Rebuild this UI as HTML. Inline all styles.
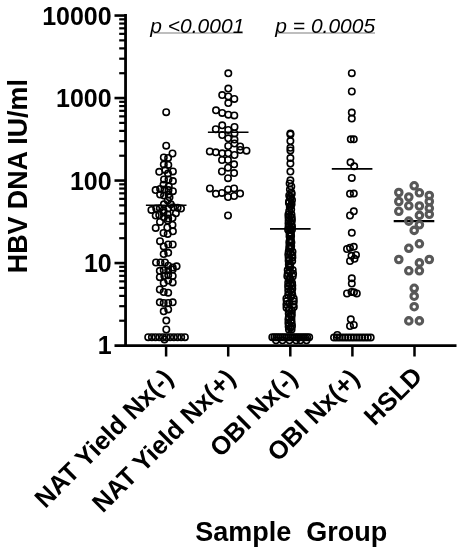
<!DOCTYPE html>
<html><head><meta charset="utf-8"><style>html,body{margin:0;padding:0;background:#fff;}svg{display:block;}</style></head><body>
<svg width="466" height="550" viewBox="0 0 466 550">
<g stroke="#000" fill="none">
<line x1="125.55" y1="14.1" x2="125.55" y2="346.9" stroke-width="2.8"/>
<line x1="114.5" y1="345.6" x2="456.5" y2="345.6" stroke-width="2.6"/>
<line x1="114.5" y1="15.55" x2="125.4" y2="15.55" stroke-width="2.6"/>
<line x1="114.5" y1="98.05" x2="125.4" y2="98.05" stroke-width="2.6"/>
<line x1="114.5" y1="180.55" x2="125.4" y2="180.55" stroke-width="2.6"/>
<line x1="114.5" y1="263.05" x2="125.4" y2="263.05" stroke-width="2.6"/>
<line x1="119.2" y1="320.72" x2="125.4" y2="320.72" stroke-width="2.2"/>
<line x1="119.2" y1="306.19" x2="125.4" y2="306.19" stroke-width="2.2"/>
<line x1="119.2" y1="295.88" x2="125.4" y2="295.88" stroke-width="2.2"/>
<line x1="119.2" y1="287.88" x2="125.4" y2="287.88" stroke-width="2.2"/>
<line x1="119.2" y1="281.35" x2="125.4" y2="281.35" stroke-width="2.2"/>
<line x1="119.2" y1="275.83" x2="125.4" y2="275.83" stroke-width="2.2"/>
<line x1="119.2" y1="271.05" x2="125.4" y2="271.05" stroke-width="2.2"/>
<line x1="119.2" y1="266.82" x2="125.4" y2="266.82" stroke-width="2.2"/>
<line x1="119.2" y1="238.22" x2="125.4" y2="238.22" stroke-width="2.2"/>
<line x1="119.2" y1="223.69" x2="125.4" y2="223.69" stroke-width="2.2"/>
<line x1="119.2" y1="213.38" x2="125.4" y2="213.38" stroke-width="2.2"/>
<line x1="119.2" y1="205.38" x2="125.4" y2="205.38" stroke-width="2.2"/>
<line x1="119.2" y1="198.85" x2="125.4" y2="198.85" stroke-width="2.2"/>
<line x1="119.2" y1="193.33" x2="125.4" y2="193.33" stroke-width="2.2"/>
<line x1="119.2" y1="188.55" x2="125.4" y2="188.55" stroke-width="2.2"/>
<line x1="119.2" y1="184.32" x2="125.4" y2="184.32" stroke-width="2.2"/>
<line x1="119.2" y1="155.72" x2="125.4" y2="155.72" stroke-width="2.2"/>
<line x1="119.2" y1="141.19" x2="125.4" y2="141.19" stroke-width="2.2"/>
<line x1="119.2" y1="130.88" x2="125.4" y2="130.88" stroke-width="2.2"/>
<line x1="119.2" y1="122.88" x2="125.4" y2="122.88" stroke-width="2.2"/>
<line x1="119.2" y1="116.35" x2="125.4" y2="116.35" stroke-width="2.2"/>
<line x1="119.2" y1="110.83" x2="125.4" y2="110.83" stroke-width="2.2"/>
<line x1="119.2" y1="106.05" x2="125.4" y2="106.05" stroke-width="2.2"/>
<line x1="119.2" y1="101.82" x2="125.4" y2="101.82" stroke-width="2.2"/>
<line x1="119.2" y1="73.22" x2="125.4" y2="73.22" stroke-width="2.2"/>
<line x1="119.2" y1="58.69" x2="125.4" y2="58.69" stroke-width="2.2"/>
<line x1="119.2" y1="48.38" x2="125.4" y2="48.38" stroke-width="2.2"/>
<line x1="119.2" y1="40.38" x2="125.4" y2="40.38" stroke-width="2.2"/>
<line x1="119.2" y1="33.85" x2="125.4" y2="33.85" stroke-width="2.2"/>
<line x1="119.2" y1="28.33" x2="125.4" y2="28.33" stroke-width="2.2"/>
<line x1="119.2" y1="23.55" x2="125.4" y2="23.55" stroke-width="2.2"/>
<line x1="119.2" y1="19.32" x2="125.4" y2="19.32" stroke-width="2.2"/>
<line x1="166.10" y1="345.6" x2="166.10" y2="356.5" stroke-width="2.5"/>
<line x1="228.20" y1="345.6" x2="228.20" y2="356.5" stroke-width="2.5"/>
<line x1="290.30" y1="345.6" x2="290.30" y2="356.5" stroke-width="2.5"/>
<line x1="352.40" y1="345.6" x2="352.40" y2="356.5" stroke-width="2.5"/>
<line x1="414.50" y1="345.6" x2="414.50" y2="356.5" stroke-width="2.5"/>
</g>
<g stroke="#000" stroke-width="1.6">
<line x1="145.9" y1="205.2" x2="186.5" y2="205.2" stroke-width="1.6"/>
<line x1="207.9" y1="132.3" x2="248.5" y2="132.3" stroke-width="1.6"/>
<line x1="270.0" y1="228.9" x2="310.6" y2="228.9" stroke-width="1.6"/>
<line x1="331.8" y1="168.9" x2="372.4" y2="168.9" stroke-width="1.6"/>
<line x1="393.7" y1="221.1" x2="434.3" y2="221.1" stroke-width="2.4"/>
</g>
<g stroke="#000" stroke-width="1.6" fill="none">
<circle cx="166.2" cy="112.2" r="3.2"/>
<circle cx="166.2" cy="145.7" r="3.2"/>
<circle cx="172.5" cy="153.5" r="3.2"/>
<circle cx="163.8" cy="157.4" r="3.2"/>
<circle cx="168.1" cy="157.9" r="3.2"/>
<circle cx="163.8" cy="164.6" r="3.2"/>
<circle cx="168.3" cy="164.9" r="3.2"/>
<circle cx="159.2" cy="171.8" r="3.2"/>
<circle cx="165.2" cy="170.1" r="3.2"/>
<circle cx="168.0" cy="173.6" r="3.2"/>
<circle cx="172.9" cy="171.4" r="3.2"/>
<circle cx="164.0" cy="179.5" r="3.2"/>
<circle cx="168.5" cy="179.5" r="3.2"/>
<circle cx="172.9" cy="181.1" r="3.2"/>
<circle cx="163.5" cy="184.8" r="3.2"/>
<circle cx="168.8" cy="186.3" r="3.2"/>
<circle cx="155.6" cy="190.1" r="3.2"/>
<circle cx="160.1" cy="189.0" r="3.2"/>
<circle cx="164.5" cy="189.5" r="3.2"/>
<circle cx="168.5" cy="190.1" r="3.2"/>
<circle cx="172.9" cy="191.2" r="3.2"/>
<circle cx="160.1" cy="194.5" r="3.2"/>
<circle cx="164.0" cy="195.6" r="3.2"/>
<circle cx="168.5" cy="194.5" r="3.2"/>
<circle cx="169.5" cy="197.3" r="3.2"/>
<circle cx="167.7" cy="200.4" r="3.2"/>
<circle cx="163.9" cy="204.3" r="3.2"/>
<circle cx="170.8" cy="204.3" r="3.2"/>
<circle cx="151.4" cy="209.9" r="3.2"/>
<circle cx="156.2" cy="208.6" r="3.2"/>
<circle cx="159.8" cy="208.2" r="3.2"/>
<circle cx="163.5" cy="210.3" r="3.2"/>
<circle cx="168.2" cy="208.6" r="3.2"/>
<circle cx="173.3" cy="207.3" r="3.2"/>
<circle cx="177.6" cy="207.7" r="3.2"/>
<circle cx="181.0" cy="208.6" r="3.2"/>
<circle cx="155.7" cy="215.5" r="3.2"/>
<circle cx="159.2" cy="215.0" r="3.2"/>
<circle cx="163.5" cy="212.6" r="3.2"/>
<circle cx="167.7" cy="214.2" r="3.2"/>
<circle cx="175.9" cy="213.3" r="3.2"/>
<circle cx="163.9" cy="217.2" r="3.2"/>
<circle cx="168.2" cy="218.5" r="3.2"/>
<circle cx="172.5" cy="218.0" r="3.2"/>
<circle cx="160.0" cy="221.9" r="3.2"/>
<circle cx="167.7" cy="220.6" r="3.2"/>
<circle cx="155.7" cy="227.9" r="3.2"/>
<circle cx="167.3" cy="227.5" r="3.2"/>
<circle cx="172.5" cy="224.9" r="3.2"/>
<circle cx="163.5" cy="233.0" r="3.2"/>
<circle cx="167.7" cy="233.9" r="3.2"/>
<circle cx="172.9" cy="231.3" r="3.2"/>
<circle cx="160.0" cy="241.2" r="3.2"/>
<circle cx="163.7" cy="246.4" r="3.2"/>
<circle cx="168.2" cy="244.5" r="3.2"/>
<circle cx="172.7" cy="244.5" r="3.2"/>
<circle cx="163.7" cy="254.1" r="3.2"/>
<circle cx="168.2" cy="252.8" r="3.2"/>
<circle cx="156.0" cy="262.5" r="3.2"/>
<circle cx="160.5" cy="262.5" r="3.2"/>
<circle cx="165.0" cy="262.5" r="3.2"/>
<circle cx="168.2" cy="265.7" r="3.2"/>
<circle cx="172.7" cy="267.6" r="3.2"/>
<circle cx="176.6" cy="266.3" r="3.2"/>
<circle cx="159.8" cy="270.8" r="3.2"/>
<circle cx="163.7" cy="270.2" r="3.2"/>
<circle cx="168.2" cy="270.2" r="3.2"/>
<circle cx="172.7" cy="269.5" r="3.2"/>
<circle cx="159.8" cy="277.2" r="3.2"/>
<circle cx="164.3" cy="275.9" r="3.2"/>
<circle cx="168.2" cy="275.3" r="3.2"/>
<circle cx="172.7" cy="275.9" r="3.2"/>
<circle cx="163.7" cy="283.0" r="3.2"/>
<circle cx="168.2" cy="280.5" r="3.2"/>
<circle cx="172.7" cy="282.4" r="3.2"/>
<circle cx="159.8" cy="289.5" r="3.2"/>
<circle cx="163.7" cy="292.0" r="3.2"/>
<circle cx="168.2" cy="292.7" r="3.2"/>
<circle cx="159.8" cy="302.3" r="3.2"/>
<circle cx="163.7" cy="303.0" r="3.2"/>
<circle cx="168.2" cy="303.0" r="3.2"/>
<circle cx="172.7" cy="302.3" r="3.2"/>
<circle cx="163.7" cy="311.3" r="3.2"/>
<circle cx="168.2" cy="309.4" r="3.2"/>
<circle cx="166.3" cy="320.6" r="3.2"/>
<circle cx="166.3" cy="329.5" r="3.2"/>
<circle cx="148.2" cy="337.2" r="3.2"/>
<circle cx="151.9" cy="337.2" r="3.2"/>
<circle cx="155.5" cy="337.2" r="3.2"/>
<circle cx="159.2" cy="337.2" r="3.2"/>
<circle cx="162.9" cy="337.2" r="3.2"/>
<circle cx="166.5" cy="337.2" r="3.2"/>
<circle cx="170.2" cy="337.2" r="3.2"/>
<circle cx="173.9" cy="337.2" r="3.2"/>
<circle cx="177.6" cy="337.2" r="3.2"/>
<circle cx="181.2" cy="337.2" r="3.2"/>
<circle cx="184.9" cy="337.2" r="3.2"/>
<circle cx="164.5" cy="339.4" r="3.2"/>
<circle cx="228.3" cy="73.3" r="3.2"/>
<circle cx="228.3" cy="88.6" r="3.2"/>
<circle cx="222.2" cy="95.1" r="3.2"/>
<circle cx="228.3" cy="96.4" r="3.2"/>
<circle cx="234.3" cy="98.9" r="3.2"/>
<circle cx="228.3" cy="103.1" r="3.2"/>
<circle cx="216.0" cy="110.3" r="3.2"/>
<circle cx="222.2" cy="112.9" r="3.2"/>
<circle cx="228.3" cy="114.7" r="3.2"/>
<circle cx="234.3" cy="115.4" r="3.2"/>
<circle cx="222.2" cy="125.3" r="3.2"/>
<circle cx="234.5" cy="127.0" r="3.2"/>
<circle cx="215.8" cy="129.2" r="3.2"/>
<circle cx="228.2" cy="129.9" r="3.2"/>
<circle cx="222.2" cy="135.0" r="3.2"/>
<circle cx="234.5" cy="133.5" r="3.2"/>
<circle cx="228.2" cy="138.3" r="3.2"/>
<circle cx="234.5" cy="139.5" r="3.2"/>
<circle cx="234.5" cy="143.5" r="3.2"/>
<circle cx="228.2" cy="146.0" r="3.2"/>
<circle cx="240.2" cy="146.5" r="3.2"/>
<circle cx="240.2" cy="150.0" r="3.2"/>
<circle cx="246.5" cy="150.7" r="3.2"/>
<circle cx="209.8" cy="151.4" r="3.2"/>
<circle cx="215.8" cy="152.3" r="3.2"/>
<circle cx="222.2" cy="153.3" r="3.2"/>
<circle cx="228.2" cy="153.3" r="3.2"/>
<circle cx="234.5" cy="155.0" r="3.2"/>
<circle cx="222.0" cy="160.0" r="3.2"/>
<circle cx="228.0" cy="160.0" r="3.2"/>
<circle cx="234.1" cy="164.3" r="3.2"/>
<circle cx="228.0" cy="167.7" r="3.2"/>
<circle cx="221.9" cy="171.5" r="3.2"/>
<circle cx="234.1" cy="173.1" r="3.2"/>
<circle cx="228.0" cy="178.2" r="3.2"/>
<circle cx="209.9" cy="188.4" r="3.2"/>
<circle cx="215.9" cy="193.8" r="3.2"/>
<circle cx="221.9" cy="192.9" r="3.2"/>
<circle cx="228.0" cy="189.4" r="3.2"/>
<circle cx="234.1" cy="188.4" r="3.2"/>
<circle cx="240.1" cy="193.6" r="3.2"/>
<circle cx="228.0" cy="197.0" r="3.2"/>
<circle cx="234.1" cy="196.0" r="3.2"/>
<circle cx="228.0" cy="215.5" r="3.2"/>
<circle cx="290.4" cy="133.4" r="3.2"/>
<circle cx="290.4" cy="134.4" r="3.2"/>
<circle cx="290.4" cy="141.1" r="3.2"/>
<circle cx="290.4" cy="147.8" r="3.2"/>
<circle cx="290.4" cy="150.4" r="3.2"/>
<circle cx="290.4" cy="158.1" r="3.2"/>
<circle cx="290.4" cy="163.6" r="3.2"/>
<circle cx="290.4" cy="171.6" r="3.2"/>
<circle cx="290.4" cy="180.3" r="3.2"/>
<circle cx="289.6" cy="183.5" r="3.2"/>
<circle cx="291.3" cy="186.5" r="3.2"/>
<circle cx="289.9" cy="189.5" r="3.2"/>
<circle cx="291.4" cy="192.5" r="3.2"/>
<circle cx="289.2" cy="195.5" r="3.2"/>
<circle cx="290.7" cy="198.5" r="3.2"/>
<circle cx="289.0" cy="201.5" r="3.2"/>
<circle cx="291.6" cy="204.3" r="3.2"/>
<circle cx="289.8" cy="207.0" r="3.2"/>
<circle cx="291.2" cy="209.5" r="3.2"/>
<circle cx="291.7" cy="194.0" r="3.2"/>
<circle cx="290.2" cy="197.0" r="3.2"/>
<circle cx="292.0" cy="200.0" r="3.2"/>
<circle cx="288.9" cy="203.0" r="3.2"/>
<circle cx="290.6" cy="206.0" r="3.2"/>
<circle cx="289.2" cy="211.0" r="3.2"/>
<circle cx="288.4" cy="214.5" r="3.2"/>
<circle cx="291.5" cy="214.5" r="3.2"/>
<circle cx="290.1" cy="216.1" r="3.2"/>
<circle cx="288.5" cy="217.3" r="3.2"/>
<circle cx="291.8" cy="217.7" r="3.2"/>
<circle cx="288.6" cy="220.4" r="3.2"/>
<circle cx="291.9" cy="220.4" r="3.2"/>
<circle cx="290.6" cy="222.3" r="3.2"/>
<circle cx="288.5" cy="223.4" r="3.2"/>
<circle cx="291.5" cy="224.2" r="3.2"/>
<circle cx="288.5" cy="227.0" r="3.2"/>
<circle cx="292.0" cy="226.5" r="3.2"/>
<circle cx="290.1" cy="228.5" r="3.2"/>
<circle cx="288.1" cy="229.8" r="3.2"/>
<circle cx="292.0" cy="229.6" r="3.2"/>
<circle cx="289.5" cy="233.1" r="3.2"/>
<circle cx="290.9" cy="233.1" r="3.2"/>
<circle cx="290.5" cy="234.7" r="3.2"/>
<circle cx="289.5" cy="236.3" r="3.2"/>
<circle cx="291.1" cy="236.0" r="3.2"/>
<circle cx="289.8" cy="239.7" r="3.2"/>
<circle cx="290.9" cy="239.5" r="3.2"/>
<circle cx="290.0" cy="240.9" r="3.2"/>
<circle cx="289.3" cy="242.2" r="3.2"/>
<circle cx="291.4" cy="242.6" r="3.2"/>
<circle cx="289.4" cy="245.8" r="3.2"/>
<circle cx="291.2" cy="245.9" r="3.2"/>
<circle cx="290.9" cy="247.1" r="3.2"/>
<circle cx="289.2" cy="248.4" r="3.2"/>
<circle cx="290.9" cy="248.6" r="3.2"/>
<circle cx="288.7" cy="251.6" r="3.2"/>
<circle cx="292.5" cy="251.8" r="3.2"/>
<circle cx="290.7" cy="253.3" r="3.2"/>
<circle cx="288.3" cy="254.5" r="3.2"/>
<circle cx="292.3" cy="255.2" r="3.2"/>
<circle cx="288.6" cy="257.6" r="3.2"/>
<circle cx="292.4" cy="257.6" r="3.2"/>
<circle cx="289.6" cy="259.5" r="3.2"/>
<circle cx="288.6" cy="260.7" r="3.2"/>
<circle cx="292.2" cy="261.0" r="3.2"/>
<circle cx="288.8" cy="264.3" r="3.2"/>
<circle cx="290.2" cy="264.2" r="3.2"/>
<circle cx="288.9" cy="265.7" r="3.2"/>
<circle cx="289.0" cy="267.0" r="3.2"/>
<circle cx="290.1" cy="267.6" r="3.2"/>
<circle cx="287.7" cy="270.1" r="3.2"/>
<circle cx="292.7" cy="270.1" r="3.2"/>
<circle cx="290.0" cy="271.9" r="3.2"/>
<circle cx="287.7" cy="273.5" r="3.2"/>
<circle cx="293.1" cy="273.8" r="3.2"/>
<circle cx="287.3" cy="276.3" r="3.2"/>
<circle cx="292.7" cy="276.4" r="3.2"/>
<circle cx="289.9" cy="278.1" r="3.2"/>
<circle cx="288.9" cy="279.3" r="3.2"/>
<circle cx="290.4" cy="279.4" r="3.2"/>
<circle cx="288.2" cy="282.6" r="3.2"/>
<circle cx="292.1" cy="283.1" r="3.2"/>
<circle cx="290.1" cy="284.3" r="3.2"/>
<circle cx="288.1" cy="286.1" r="3.2"/>
<circle cx="292.3" cy="285.5" r="3.2"/>
<circle cx="288.3" cy="289.2" r="3.2"/>
<circle cx="292.3" cy="288.7" r="3.2"/>
<circle cx="290.5" cy="290.5" r="3.2"/>
<circle cx="288.4" cy="291.8" r="3.2"/>
<circle cx="291.8" cy="292.3" r="3.2"/>
<circle cx="288.2" cy="295.0" r="3.2"/>
<circle cx="292.3" cy="294.7" r="3.2"/>
<circle cx="290.8" cy="296.7" r="3.2"/>
<circle cx="286.4" cy="298.4" r="3.2"/>
<circle cx="293.7" cy="298.5" r="3.2"/>
<circle cx="286.7" cy="301.1" r="3.2"/>
<circle cx="293.8" cy="301.5" r="3.2"/>
<circle cx="289.4" cy="302.9" r="3.2"/>
<circle cx="286.4" cy="304.4" r="3.2"/>
<circle cx="293.4" cy="304.5" r="3.2"/>
<circle cx="286.5" cy="307.8" r="3.2"/>
<circle cx="293.8" cy="307.1" r="3.2"/>
<circle cx="289.7" cy="309.1" r="3.2"/>
<circle cx="288.7" cy="310.2" r="3.2"/>
<circle cx="291.9" cy="310.5" r="3.2"/>
<circle cx="288.7" cy="313.4" r="3.2"/>
<circle cx="291.8" cy="314.0" r="3.2"/>
<circle cx="291.0" cy="315.3" r="3.2"/>
<circle cx="288.8" cy="317.0" r="3.2"/>
<circle cx="291.6" cy="316.5" r="3.2"/>
<circle cx="288.4" cy="319.5" r="3.2"/>
<circle cx="291.5" cy="320.1" r="3.2"/>
<circle cx="290.9" cy="321.5" r="3.2"/>
<circle cx="288.4" cy="323.1" r="3.2"/>
<circle cx="291.7" cy="323.2" r="3.2"/>
<circle cx="288.6" cy="326.5" r="3.2"/>
<circle cx="292.0" cy="326.1" r="3.2"/>
<circle cx="290.6" cy="327.7" r="3.2"/>
<circle cx="288.9" cy="329.4" r="3.2"/>
<circle cx="291.6" cy="329.4" r="3.2"/>
<circle cx="272.3" cy="337.2" r="3.2"/>
<circle cx="274.4" cy="337.2" r="3.2"/>
<circle cx="276.4" cy="337.2" r="3.2"/>
<circle cx="278.4" cy="337.2" r="3.2"/>
<circle cx="280.5" cy="337.2" r="3.2"/>
<circle cx="282.6" cy="337.2" r="3.2"/>
<circle cx="284.6" cy="337.2" r="3.2"/>
<circle cx="286.7" cy="337.2" r="3.2"/>
<circle cx="288.7" cy="337.2" r="3.2"/>
<circle cx="290.8" cy="337.2" r="3.2"/>
<circle cx="292.8" cy="337.2" r="3.2"/>
<circle cx="294.9" cy="337.2" r="3.2"/>
<circle cx="296.9" cy="337.2" r="3.2"/>
<circle cx="298.9" cy="337.2" r="3.2"/>
<circle cx="301.0" cy="337.2" r="3.2"/>
<circle cx="303.1" cy="337.2" r="3.2"/>
<circle cx="305.1" cy="337.2" r="3.2"/>
<circle cx="307.1" cy="337.2" r="3.2"/>
<circle cx="309.2" cy="337.2" r="3.2"/>
<circle cx="276.0" cy="340.3" r="3.2"/>
<circle cx="282.5" cy="340.3" r="3.2"/>
<circle cx="289.5" cy="340.3" r="3.2"/>
<circle cx="296.0" cy="340.3" r="3.2"/>
<circle cx="300.5" cy="340.3" r="3.2"/>
<circle cx="306.5" cy="340.3" r="3.2"/>
<circle cx="351.8" cy="73.2" r="3.2"/>
<circle cx="351.8" cy="91.5" r="3.2"/>
<circle cx="351.8" cy="112.6" r="3.2"/>
<circle cx="351.8" cy="118.6" r="3.2"/>
<circle cx="350.8" cy="139.3" r="3.2"/>
<circle cx="353.8" cy="139.3" r="3.2"/>
<circle cx="350.5" cy="162.3" r="3.2"/>
<circle cx="354.2" cy="166.3" r="3.2"/>
<circle cx="351.8" cy="177.9" r="3.2"/>
<circle cx="350.0" cy="193.8" r="3.2"/>
<circle cx="353.8" cy="193.6" r="3.2"/>
<circle cx="353.8" cy="211.3" r="3.2"/>
<circle cx="350.0" cy="215.5" r="3.2"/>
<circle cx="351.8" cy="232.8" r="3.2"/>
<circle cx="347.0" cy="249.0" r="3.2"/>
<circle cx="350.0" cy="247.8" r="3.2"/>
<circle cx="353.8" cy="246.8" r="3.2"/>
<circle cx="351.5" cy="255.8" r="3.2"/>
<circle cx="356.0" cy="255.0" r="3.2"/>
<circle cx="350.0" cy="261.0" r="3.2"/>
<circle cx="354.5" cy="258.8" r="3.2"/>
<circle cx="351.8" cy="278.3" r="3.2"/>
<circle cx="351.8" cy="283.6" r="3.2"/>
<circle cx="347.0" cy="293.5" r="3.2"/>
<circle cx="351.5" cy="292.0" r="3.2"/>
<circle cx="356.8" cy="293.5" r="3.2"/>
<circle cx="350.8" cy="319.3" r="3.2"/>
<circle cx="350.0" cy="326.0" r="3.2"/>
<circle cx="353.8" cy="324.9" r="3.2"/>
<circle cx="337.3" cy="335.0" r="3.2"/>
<circle cx="334.0" cy="337.6" r="3.2"/>
<circle cx="336.8" cy="337.6" r="3.2"/>
<circle cx="339.6" cy="337.6" r="3.2"/>
<circle cx="342.5" cy="337.6" r="3.2"/>
<circle cx="345.3" cy="337.6" r="3.2"/>
<circle cx="348.1" cy="337.6" r="3.2"/>
<circle cx="350.9" cy="337.6" r="3.2"/>
<circle cx="353.7" cy="337.6" r="3.2"/>
<circle cx="356.6" cy="337.6" r="3.2"/>
<circle cx="359.4" cy="337.6" r="3.2"/>
<circle cx="362.2" cy="337.6" r="3.2"/>
<circle cx="365.0" cy="337.6" r="3.2"/>
<circle cx="367.8" cy="337.6" r="3.2"/>
<circle cx="370.7" cy="337.6" r="3.2"/>
<circle cx="354.0" cy="292.3" r="3.2"/>
</g>
<g stroke="#585858" stroke-width="3.1" fill="none">
<circle cx="414.2" cy="185.8" r="3.25"/>
<circle cx="419.4" cy="192.8" r="3.25"/>
<circle cx="398.8" cy="192.5" r="3.25"/>
<circle cx="408.8" cy="197.0" r="3.25"/>
<circle cx="429.3" cy="195.5" r="3.25"/>
<circle cx="398.8" cy="201.5" r="3.25"/>
<circle cx="429.3" cy="201.5" r="3.25"/>
<circle cx="408.8" cy="205.8" r="3.25"/>
<circle cx="419.4" cy="206.0" r="3.25"/>
<circle cx="429.3" cy="208.3" r="3.25"/>
<circle cx="398.8" cy="211.3" r="3.25"/>
<circle cx="429.3" cy="214.3" r="3.25"/>
<circle cx="419.4" cy="215.4" r="3.25"/>
<circle cx="408.8" cy="221.1" r="3.25"/>
<circle cx="419.4" cy="224.8" r="3.25"/>
<circle cx="414.2" cy="230.4" r="3.25"/>
<circle cx="419.4" cy="243.8" r="3.25"/>
<circle cx="408.8" cy="248.3" r="3.25"/>
<circle cx="398.8" cy="259.5" r="3.25"/>
<circle cx="429.3" cy="259.5" r="3.25"/>
<circle cx="419.4" cy="262.9" r="3.25"/>
<circle cx="408.8" cy="270.8" r="3.25"/>
<circle cx="419.4" cy="270.8" r="3.25"/>
<circle cx="414.2" cy="288.3" r="3.25"/>
<circle cx="414.2" cy="296.2" r="3.25"/>
<circle cx="414.2" cy="306.7" r="3.25"/>
<circle cx="408.8" cy="320.9" r="3.25"/>
<circle cx="419.4" cy="320.9" r="3.25"/>
</g>
<g stroke="#a8a8a8" stroke-width="1.6">
<line x1="153.6" y1="33.0" x2="242.8" y2="33.0"/>
<line x1="277.3" y1="33.0" x2="375" y2="33.0"/>
</g>
<g font-family="Liberation Sans, Arial, sans-serif" font-weight="bold" font-size="25" text-anchor="end" fill="#000">
<text x="111.7" y="24.5">10000</text>
<text x="111.7" y="107.0">1000</text>
<text x="111.7" y="189.5">100</text>
<text x="111.7" y="271.9">10</text>
<text x="111.7" y="354.4">1</text>
</g>
<text font-family="Liberation Sans, Arial, sans-serif" font-weight="bold" font-size="26.8" text-anchor="middle" transform="translate(27.2,176.2) rotate(-90)">HBV DNA IU/ml</text>
<text font-family="Liberation Sans, Arial, sans-serif" font-weight="bold" font-size="27" x="195.2" y="540.5" xml:space="preserve" style="white-space:pre">Sample  Group</text>
<g font-family="Liberation Sans, Arial, sans-serif" font-style="italic" font-size="21" fill="#000">
<text x="150.3" y="32.5">p &lt;0.0001</text>
<text x="275.3" y="32.5">p = 0.0005</text>
</g>
<g font-family="Liberation Sans, Arial, sans-serif" font-weight="bold" font-size="25.6" text-anchor="end" fill="#000">
<text transform="translate(174.6,379.8) rotate(-45)">NAT Yield Nx(-)</text>
<text transform="translate(236.7,379.8) rotate(-45)">NAT Yield Nx(+)</text>
<text transform="translate(298.8,379.8) rotate(-45)">OBI Nx(-)</text>
<text transform="translate(360.9,379.8) rotate(-45)">OBI Nx(+)</text>
<text transform="translate(423.8,377.6) rotate(-45)">HSLD</text>
</g>
</svg>
</body></html>
